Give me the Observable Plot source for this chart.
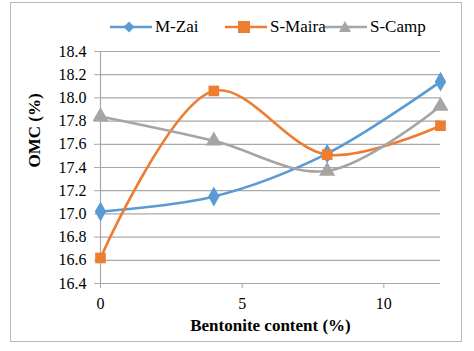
<!DOCTYPE html>
<html><head><meta charset="utf-8">
<script src="https://cdn.jsdelivr.net/npm/d3@7"></script>
<script src="https://cdn.jsdelivr.net/npm/@observablehq/plot@0.6"></script>
</head>
<body style="margin:0;background:#fff;font-family:'Liberation Serif'">
<div id="wrap" style="position:relative;width:474px;height:351px;overflow:hidden;">
<div id="frame" style="position:absolute;left:10px;top:2px;width:450px;height:338px;border:1px solid #b8b8b8;pointer-events:none;"></div>
<div id="legend" style="height:42px;position:relative;font-size:17px;color:#000;"></div>
<div id="chart"></div></div>
<script>
const bentonite = [0, 4, 8, 12];
const seriesNames = ["M-Zai", "S-Maira", "S-Camp"];
const mZai = [17.02, 17.15, 17.52, 18.14];
const sMaira = [16.62, 18.06, 17.51, 17.76];
const sCamp = [17.84, 17.63, 17.37, 17.93];
const yTicks = [16.4, 16.6, 16.8, 17.0, 17.2, 17.4, 17.6, 17.8, 18.0, 18.2, 18.4];
const xTicks = [0, 5, 10];
const colors = ["#5b9bd5", "#ed7d31", "#a5a5a5"];
const symbols = ["diamond", "square", "triangle"];
const FONT = "Liberation Serif";

const values = [mZai, sMaira, sCamp];
const data = [];
seriesNames.forEach((s, i) => bentonite.forEach((b, j) => data.push({series: s, x: b, y: values[i][j]})));

const legend = document.getElementById("legend");
const lx = [110, 225, 325];
const shapes = [
  '<path d="M19 5.5 L24.5 11 L19 16.5 L13.5 11 Z" fill="#5b9bd5"/>',
  '<rect x="13" y="5" width="12" height="12" fill="#ed7d31"/>',
  '<path d="M20 5 L26 16 L14 16 Z" fill="#a5a5a5"/>'
];
seriesNames.forEach((s, i) => {
  const d = document.createElement("div");
  d.style.cssText = `position:absolute;top:16px;left:${lx[i]}px;display:flex;align-items:center;height:22px;font-family:'${FONT}';`;
  d.innerHTML = `<svg width="42" height="22" style="margin-right:3px"><line x1="0" x2="42" y1="11" y2="11" stroke="${colors[i]}" stroke-width="2.5"/>${shapes[i]}</svg><span style="font-family:'${FONT}'">${s}</span>`;
  legend.appendChild(d);
});

const chart = Plot.plot({
  width: 474, height: 309,
  marginTop: 9, marginBottom: 68, marginLeft: 100, marginRight: 34,
  style: {fontFamily: FONT, fontSize: "15px", color: "#000", background: "transparent"},
  x: {domain: [0, 12]},
  y: {domain: [16.4, 18.4]},
  color: {domain: seriesNames, range: colors},
  symbol: {domain: seriesNames, range: symbols},
  marks: [
    Plot.gridY(yTicks, {stroke: "#a8a8a8", strokeOpacity: 1, strokeWidth: 1.2}),
    Plot.ruleX([0], {stroke: "#a8a8a8", strokeWidth: 1.2}),
    Plot.axisY({ticks: yTicks, tickFormat: d3.format(".1f"), tickSize: 6, tickPadding: 8, stroke: "#a8a8a8", label: null, fontSize: 16, fontFamily: FONT}),
    Plot.axisX({ticks: xTicks, tickSize: 5, tickPadding: 9, stroke: "#a8a8a8", label: null, fontSize: 16, fontFamily: FONT}),
    Plot.line(data, {x: "x", y: "y", z: "series", stroke: "series", strokeWidth: 2.6, curve: "catmull-rom"}),
    Plot.dot(data, {x: "x", y: "y", fill: "series", symbol: "series", r: 6, stroke: "none"}),
    Plot.text(["OMC (%)"], {frameAnchor: "left", dx: -66, rotate: -90, fontWeight: "bold", fontSize: 17, lineAnchor: "middle", fontFamily: FONT}),
    Plot.text(["Bentonite content (%)"], {frameAnchor: "bottom", dy: 42, fontWeight: "bold", fontSize: 17, lineAnchor: "middle", fontFamily: FONT})
  ]
});
document.getElementById("chart").appendChild(chart);
</script>
</body></html>
